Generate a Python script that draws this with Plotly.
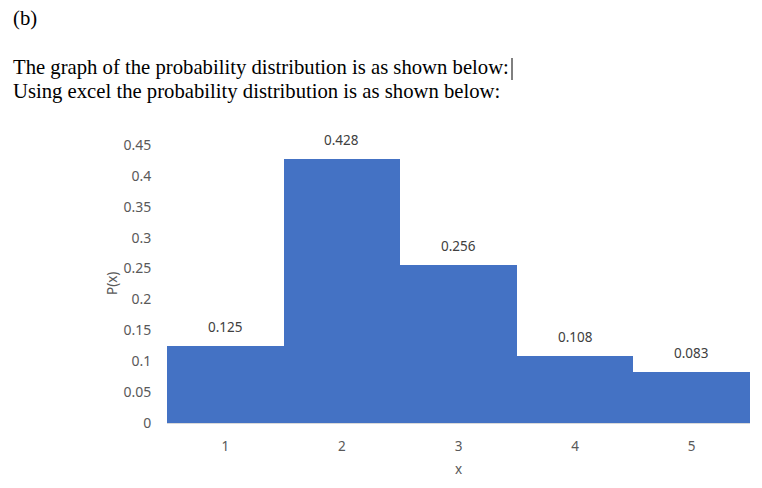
import plotly.graph_objects as go

x_vals = [1, 2, 3, 4, 5]
probs = [0.125, 0.428, 0.256, 0.108, 0.083]
y_ticks = [0, 0.05, 0.1, 0.15, 0.2, 0.25, 0.3, 0.35, 0.4, 0.45]
y_tick_text = ["0", "0.05", "0.1", "0.15", "0.2", "0.25", "0.3", "0.35", "0.4", "0.45"]
header = "(b)"
line1 = "The graph of the probability distribution is as shown below:"
line2 = "Using excel the probability distribution is as shown below:"

W, H = 762, 488
L, R, T, B = 167, 12, 145, 65
pw = W - L - R
ph = H - T - B

def px(x):
    return (x - L) / pw

def py(y):
    return (H - B - y) / ph

fig = go.Figure()
fig.add_trace(go.Bar(
    x=x_vals, y=probs,
    marker=dict(color="#4472C4", line=dict(width=0)),
    hoverinfo="x+y",
))

for xv, pv in zip(x_vals, probs):
    fig.add_annotation(x=xv, y=pv, text=str(pv), showarrow=False,
                       yanchor="bottom", yshift=8,
                       font=dict(family="Noto Sans", size=13.5, color="#404040"))

tfont = dict(family="Liberation Serif", size=20.7, color="#000000")
fig.add_annotation(xref="paper", yref="paper", x=px(11), y=py(19), text=header,
                   showarrow=False, xanchor="left", yanchor="middle", font=tfont)
fig.add_annotation(xref="paper", yref="paper", x=px(11), y=py(68), text=line1,
                   showarrow=False, xanchor="left", yanchor="middle", font=tfont)
fig.add_annotation(xref="paper", yref="paper", x=px(11), y=py(91), text=line2,
                   showarrow=False, xanchor="left", yanchor="middle", font=tfont)
# text cursor
fig.add_shape(type="line", xref="paper", yref="paper",
              x0=px(512), x1=px(512), y0=py(58), y1=py(80),
              line=dict(color="#000000", width=1))

fig.add_annotation(xref="paper", yref="paper", x=px(112), y=py(284), text="P(x)",
                   textangle=-90, showarrow=False, xanchor="center", yanchor="middle",
                   font=dict(family="Noto Sans", size=13.5, color="#595959"))
fig.add_annotation(xref="paper", yref="paper", x=0.5, y=py(469), text="x",
                   showarrow=False, xanchor="center", yanchor="middle",
                   font=dict(family="Noto Sans", size=13.5, color="#595959"))

fig.update_layout(
    width=W, height=H,
    margin=dict(l=L, r=R, t=T, b=B, autoexpand=False),
    paper_bgcolor="white", plot_bgcolor="white",
    bargap=0, showlegend=False,
    xaxis=dict(type="linear", range=[0.5, 5.5], tickvals=x_vals,
               ticktext=[str(v) for v in x_vals],
               showgrid=False, zeroline=False,
               showline=True, linecolor="#D9D9D9", linewidth=1,
               ticks="outside", ticklen=11, tickcolor="rgba(0,0,0,0)",
               tickfont=dict(family="Noto Sans", size=13.5, color="#595959")),
    yaxis=dict(range=[0, 0.45], tickvals=y_ticks, ticktext=y_tick_text,
               showgrid=False, zeroline=False, showline=False,
               ticks="outside", ticklen=12, tickcolor="rgba(0,0,0,0)",
               tickfont=dict(family="Noto Sans", size=14, color="#595959")),
)

fig.write_html("out.html")
